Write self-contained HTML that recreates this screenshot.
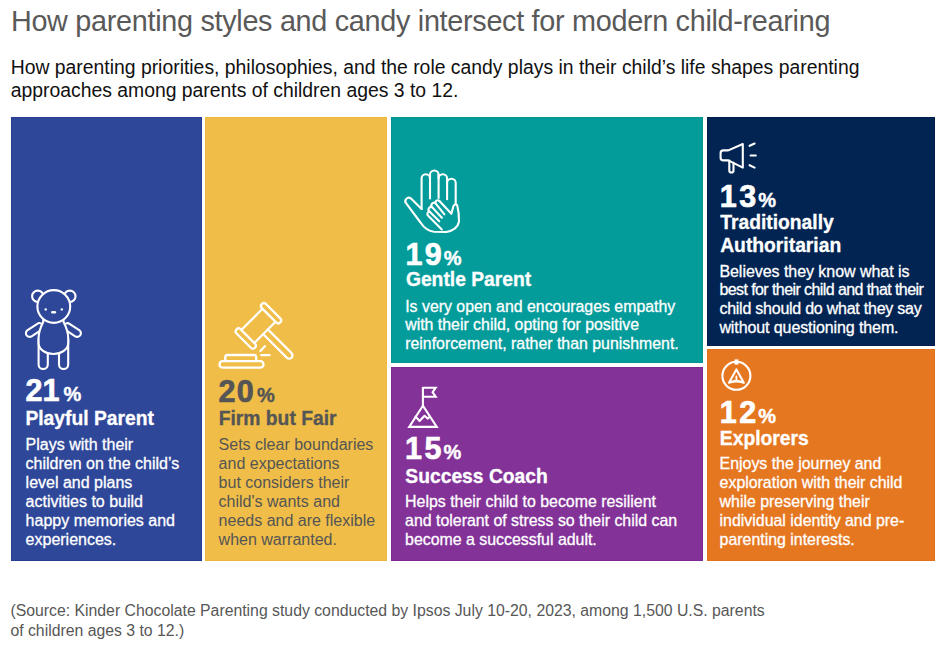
<!DOCTYPE html>
<html><head><meta charset="utf-8">
<style>
*{margin:0;padding:0;box-sizing:border-box}
html,body{width:944px;height:649px;background:#fff;overflow:hidden}
body{position:relative;font-family:"Liberation Sans",sans-serif}
.a{position:absolute;white-space:nowrap}
#title{left:10.9px;top:6.7px;font-size:28.8px;line-height:28.8px;letter-spacing:-0.3px;color:#595959}
#sub{left:10.7px;top:56.2px;font-size:19.36px;line-height:22.6px;color:#111}
#src{left:10.4px;top:600.8px;font-size:15.8px;line-height:19.8px;color:#575757}
.box{position:absolute}
.b1{left:11px;top:117px;width:191px;height:444px;background:#2f4799;box-shadow:inset 0 0 0 1px #253d94}
.b2{left:205px;top:117px;width:182px;height:444px;background:#efbd48;box-shadow:inset 0 0 0 1px #edb83d}
.b3{left:391px;top:117px;width:312px;height:246px;background:#039c9b;box-shadow:inset 0 0 0 1px #019594}
.b4{left:707px;top:117px;width:228px;height:229px;background:#012453;box-shadow:inset 0 0 0 1px #001d4e}
.b5{left:391px;top:367px;width:312px;height:194px;background:#833398;box-shadow:inset 0 0 0 1px #7c2991}
.b6{left:707px;top:349px;width:228px;height:212px;background:#e67721;box-shadow:inset 0 0 0 1px #e47019}
.t{position:absolute;color:#fff;white-space:nowrap}
.pct{font-weight:bold;font-size:30.5px;line-height:30.5px;-webkit-text-stroke:0.7px currentColor}
.pct span{font-size:20px;margin-left:2px;-webkit-text-stroke:0.4px currentColor}
.nm{font-weight:bold;font-size:19.3px;line-height:23px;-webkit-text-stroke:0.3px currentColor}
.ds{font-size:16px;line-height:19px;-webkit-text-stroke:0.3px currentColor}
.gray{color:#555}
.ds.gray{-webkit-text-stroke:0}
svg{position:absolute;left:0;top:0;overflow:visible}
</style></head><body>
<div id="title" class="a">How parenting styles and candy intersect for modern child-rearing</div>
<div id="sub" class="a">How parenting priorities, philosophies, and the role candy plays in their child’s life shapes parenting<br>approaches among parents of children ages 3 to 12.</div>

<div class="box b1"></div>
<div class="box b2"></div>
<div class="box b3"></div>
<div class="box b4"></div>
<div class="box b5"></div>
<div class="box b6"></div>

<!-- blue card text -->
<div class="t pct" style="left:25.6px;top:375.3px">21<span style="margin-left:4px">%</span></div>
<div class="t nm" style="left:25.4px;top:407.3px">Playful Parent</div>
<div class="t ds" style="left:25.6px;top:435.1px;line-height:19px">Plays with their<br>children on the child’s<br>level and plans<br>activities to build<br>happy memories and<br>experiences.</div>

<!-- yellow card text -->
<div class="t pct gray" style="left:218.6px;top:375.6px"><b style="letter-spacing:1.2px">2</b>0<span style="margin-left:3.3px">%</span></div>
<div class="t nm gray" style="left:218.7px;top:407.2px">Firm but Fair</div>
<div class="t ds gray" style="left:218.6px;top:435.1px;line-height:19px">Sets clear boundaries<br>and expectations<br>but considers their<br>child's wants and<br>needs and are flexible<br>when warranted.</div>

<!-- teal card text -->
<div class="t pct" style="left:405.4px;top:239.4px"><b style="letter-spacing:2.5px">1</b>9<span>%</span></div>
<div class="t nm" style="left:405.9px;top:268.1px">Gentle Parent</div>
<div class="t ds" style="left:405.2px;top:297.6px;line-height:18.85px;font-size:15.88px">Is very open and encourages empathy<br>with their child, opting for positive<br>reinforcement, rather than punishment.</div>

<!-- navy card text -->
<div class="t pct" style="left:719.7px;top:180.6px"><b style="letter-spacing:2.5px">1</b>3<span>%</span></div>
<div class="t nm" style="left:720.2px;top:210.7px">Traditionally<br>Authoritarian</div>
<div class="t ds" style="left:719.4px;top:262.5px;line-height:18.85px"><span style="letter-spacing:-0.045px">Believes they know what is</span><br><span style="letter-spacing:-0.58px">best for their child and that their</span><br><span style="letter-spacing:-0.24px">child should do what they say</span><br><span style="letter-spacing:-0.095px">without questioning them.</span></div>

<!-- purple card text -->
<div class="t pct" style="left:405.1px;top:433.2px"><b style="letter-spacing:2.5px">1</b>5<span>%</span></div>
<div class="t nm" style="left:405.3px;top:465px">Success Coach</div>
<div class="t ds" style="left:405.1px;top:491.8px;line-height:19.3px;font-size:15.9px">Helps their child to become resilient<br>and tolerant of stress so their child can<br>become a successful adult.</div>

<!-- orange card text -->
<div class="t pct" style="left:719.7px;top:397.1px"><b style="letter-spacing:2.5px">1</b>2<span>%</span></div>
<div class="t nm" style="left:719.8px;top:426.5px">Explorers</div>
<div class="t ds" style="left:719.6px;top:453.8px;font-size:15.9px">Enjoys the journey and<br>exploration with their child<br>while preserving their<br>individual identity and pre-<br>parenting interests.</div>

<div id="src" class="a">(Source: Kinder Chocolate Parenting study conducted by Ipsos July 10-20, 2023, among 1,500 U.S. parents<br>of children ages 3 to 12.)</div>

<svg width="944" height="649" viewBox="0 0 944 649" fill="none" stroke="#fff" stroke-width="2.1" stroke-linecap="round" stroke-linejoin="round">
 <!-- teddy bear -->
 <g fill="#2f4799">
  <rect x="38.6" y="335" width="9.2" height="34" rx="4.6"/>
  <rect x="59" y="335" width="9.2" height="34" rx="4.6"/>
  <rect x="-3.7" y="-3.7" width="19" height="7.4" rx="3.7" transform="translate(29.6 333.2) rotate(-33)"/>
  <rect x="-3.7" y="-3.7" width="19" height="7.4" rx="3.7" transform="translate(77.2 333.2) rotate(213)"/>
  <path d="M43.5 316 L43.2 322 C40.4 327.5 38.6 332 38.6 338 L38.6 343 C38.6 349.5 45.5 354 53.4 354 C61.3 354 68.2 349.5 68.2 343 L68.2 338 C68.2 332 66.4 327.5 63.6 322 L63.3 316 Z"/>
  <circle cx="37.8" cy="296.3" r="5.7"/>
  <circle cx="69.8" cy="296.3" r="5.7"/>
  <circle cx="53.8" cy="306.5" r="16.4"/>
 </g>
 <g fill="#fff" stroke="none">
  <circle cx="45.7" cy="309.4" r="1.2"/>
  <circle cx="61.8" cy="309.4" r="1.2"/>
  <rect x="51.1" y="311" width="5" height="2.4" rx="1.2"/>
 </g>
 <!-- gavel -->
 <g stroke-width="2.3">
 <g transform="translate(258.4 325.9) rotate(-45)" fill="#efbd48">
  <path d="M-2.4 9 L-2.4 42.6 A3.3 3.3 0 0 0 4.2 42.6 L4.2 9"/>
  <path d="M-15 -9.2 L15 -9.2 M-15 9.2 L15 9.2"/>
  <rect x="15" y="-13" width="5.8" height="26" rx="2.9"/>
  <rect x="-20.8" y="-13" width="5.8" height="26" rx="2.9"/>
 </g>
 <path d="M260.4 351 L264.9 346.2 M261.2 355.1 L269.6 355.1"/>
 <path d="M225.3 360.8 L225.3 357.2 Q225.3 355 227.5 355 L254 355 Q256.2 355 256.2 357.2 L256.2 360.8"/>
 <rect x="219.5" y="361.2" width="44" height="6.4" rx="3.2"/>
 </g>
 <!-- hands -->
 <path d="M421.6 209 L421.6 178.5 A4.2 4.2 0 0 1 430 178.5 L430 174.8 A4.3 4.3 0 0 1 438.6 174.8 L438.6 178.55 A4.25 4.25 0 0 1 447.1 178.55 L447.1 183.1 A4.3 4.3 0 0 1 455.7 183.1 L455.7 203.5"/>
 <path d="M430 178.5 L430 198.4 M438.6 174.8 L438.6 198 M447.1 183.1 L447.1 199.2"/>
 <path d="M421.6 209 L411 198.6 A3.4 3.4 0 0 0 406.4 203.6 L420.5 222.5 Q426 230.8 434 231.8 L446 232"/>
 <path d="M439.2 200.8 L451.4 213.8 L453.3 206.5 Q454.6 203.4 457.2 205.2 Q459.2 213 459 221.5 Q457.5 230 446 232"/>
 <path d="M441.8 229.5 L428.2 215.8 A2.3 2.3 0 0 1 429.7 211.7 A2.3 2.3 0 0 1 432.3 207.4 A2.3 2.3 0 0 1 435.6 203.4 A2.3 2.3 0 0 1 439.2 200.8"/>
 <path d="M435.6 203.4 L444.4 214.3 M432.3 207.4 L441.9 217.8 M429.7 211.7 L439.3 221.3"/>
 <!-- megaphone -->
 <path d="M742.8 144 L728.3 150.4 L723.3 150.4 Q720.6 150.4 720.6 153.1 L720.6 157.7 Q720.6 160.4 723.3 160.4 L728.3 160.4 L742.8 167.6 Z"/>
 <path d="M729.3 160.6 L729.3 170.4 Q729.3 172.5 731.4 172.5 Q733.5 172.5 733.5 170.4 L733.5 162.7"/>
 <path d="M749.6 145.8 L754.6 143.5 M750.6 155.5 L755.8 155.5 M749.6 165.2 L754.6 167.6"/>
 <!-- mountain flag -->
 <path d="M422.9 405.7 L409.2 426.9 L436.8 426.9 Z" stroke-linejoin="miter"/>
 <path d="M422.9 405.7 L422.9 387.4" stroke-linecap="butt"/>
 <path d="M422.9 387.7 L435.7 387.7 L432.6 392.2 L435.7 396.7 L422.9 396.7" stroke-linejoin="miter"/>
 <path d="M415.6 416.6 L419.6 421 L424.5 415.8 L427.9 418.6 L429.6 416.9"/>
 <!-- compass -->
 <circle cx="736.4" cy="375.8" r="14"/>
 <rect x="734.6" y="359.4" width="3.8" height="5.2" fill="#fff" stroke="none"/>
 <path d="M736.4 369.4 L729 382.8 Q736.4 380 743.8 382.8 Z"/>
 <path d="M736.4 376.4 L736.4 379.6 Q736.4 381 732.2 381.9 M736.4 379.6 Q736.4 381 740.6 381.9" stroke-width="1.8"/>
</svg>
</body></html>
